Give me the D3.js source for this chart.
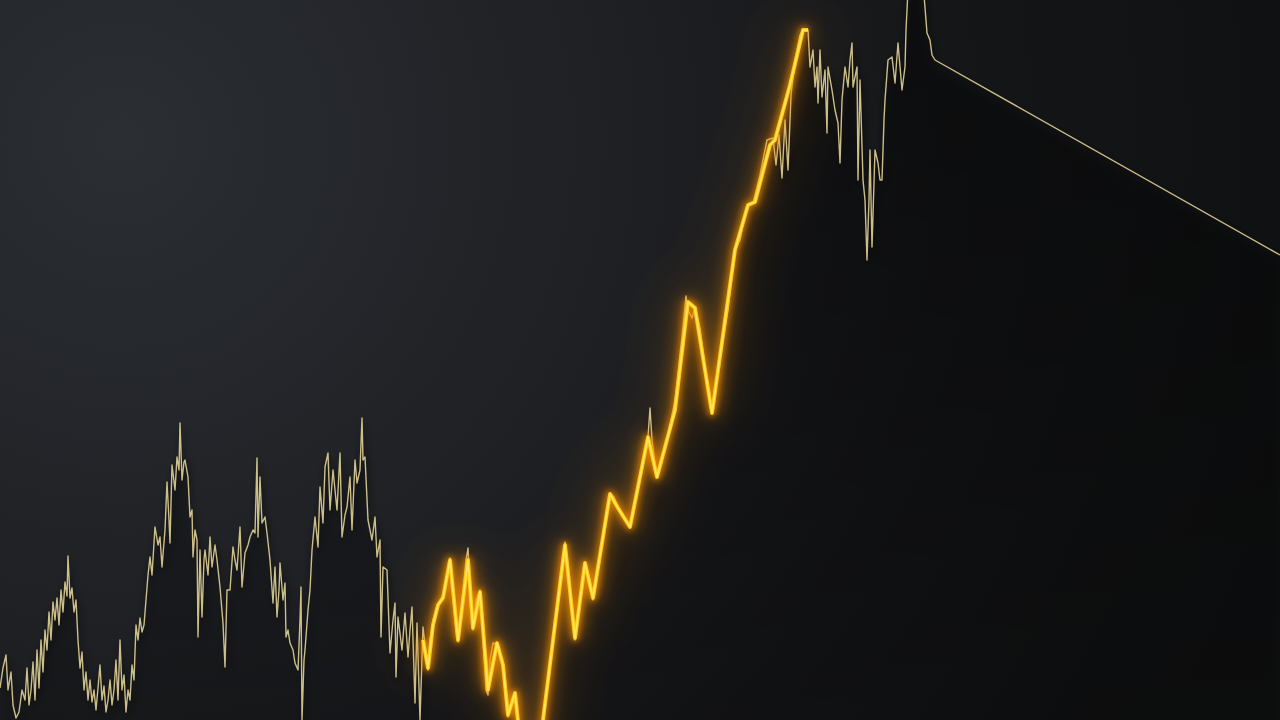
<!DOCTYPE html>
<html>
<head>
<meta charset="utf-8">
<script src="https://cdn.jsdelivr.net/npm/d3@7"></script>
<style>
html,body{margin:0;padding:0;background:#151618;overflow:hidden;}
svg{display:block;}
</style>
</head>
<body>
<svg id="chart" width="1280" height="720"></svg>
<script>
// Full price trace [time, level] (thin pale-gold line)
const traceEarly = [
[0,32],[3,52],[6,65],[8,30],[11,48],[13,15],[16,2],[19,8],[22,30],[25,20],[27,52],[29,15],[31,30],[33,58],[35,20],[37,70],[39,32],[41,80],[43,48],[45,90],[47,70],[49,108],[51,80],[53,118],[55,100],[57,122],[59,95],[61,130],[63,108],[65,138],[67,124],[68,164],[70,122],[72,132],[74,108],[76,120],[78,80],[80,52],[82,68],[84,30],[86,48],[88,20],[90,40],[92,18],[94,30],[96,10],[98,32],[100,55],[102,20],[104,34],[106,8],[108,20],[110,40],[112,15],[114,30],[116,60],[118,20],[120,80],[122,30],[124,45],[126,8],[128,30],[130,20],[132,55],[134,40],[136,95],[138,80],[140,102],[142,88],[144,95],[146,120],[148,145]
];
const tracePeaks = [
[150,163],[152,145],[155,193],[158,175],[160,183],[162,153],[165,190],[167,238],[169,200],[170,177],[172,255],[175,230],[177,263],[179,250],[180,297],[182,240],[184,258],[185,260],[188,243],[190,203],[192,210],[193,163],[195,190],[197,180],[198,83],[200,170],[202,103],[204,160],[205,170],[208,145],[210,183],[212,153],[215,175],[217,160],[220,133],[223,97],[225,53],[227,130],[230,130],[233,173],[235,160],[237,150],[240,193],[242,133],[245,167],[248,175],[250,183],[253,190],[255,187],[257,262],[258,183],[260,243],[262,197],[265,203],[267,187],[270,160],[273,117],[275,153],[277,103],[279,130],
[280,157],[283,120],[285,137],[286,83],[288,90],[290,77],[293,70],[295,57],[298,50],[300,100],[301,133],[302,0],[304,60],[305,70],[308,110],[310,130],[312,170],[315,203],[318,173],[320,233],[323,197],[325,253],[328,267],[330,210],[333,250],[335,230],[337,210],[340,267],[342,183],[345,205],[347,213],[350,243],[352,190],[355,260],[357,237],[360,250],[362,302],[363,260],[365,263],[368,200],[370,190],[372,180],[375,203],[377,163],[380,180],[381,83],[383,153],[387,150],[390,67],[393,100],[395,117],[396,43],[398,103],[402,70],[405,107],[408,63],[410,90],[412,113],[415,17],[417,97],[420,0],[423,93]
];
const traceRally = [
[428,50],[430,80],[433,100],[436,110],[438,117],[443,125],[446,135],[450,162],[453,120],[456,90],[458,78],[462,120],[466,160],[468,172],[470,130],[473,90],[476,120],[480,130],[483,80],[486,30],[488,25],[490,60],[493,77],[497,75],[500,65],[503,53],[505,40],[508,3],[512,20],[515,27],[518,0],[525,-15],[535,-15],[543,0],[555,100],[565,178],[568,155],[571,110],[575,80],[577,100],[582,140],[585,157],[590,140],[593,120],[600,160],[605,200],[610,227],[614,223],[620,208],[630,192],[640,240],[648,283],[650,312],[652,280],[657,242],[665,270],[675,320],[683,393],[686,424],[688,410],[692,402],[695,413],[700,392],[703,370],[706,340],[712,307],[720,360],[728,410],[735,470],[740,480],[747,515],[753,517],[760,545],[767,580],[773,582],[776,555],[779,585],[782,542],[785,600],[788,550],[791,625],[795,660],[800,685],[803,690],[808,690]
];
const traceTop = [
[810,653],[813,670],[815,633],[817,653],[818,617],[820,670],[822,623],[825,650],[827,587],[828,653],[832,630],[835,610],[838,597],[840,557],[842,620],[845,653],[848,633],[850,660],[852,677],[853,633],[857,653],[858,540],[860,640],[863,540],[865,520],[867,460],[869,520],[870,570],[872,473],[875,570],[878,557],[880,540],[882,540],[884,600],[885,620],[888,660],[892,663],[895,637],[898,677],[902,630],[905,653],[906,690],[908,730],[910,750],[920,750],[924,725],[926,700],[927,687],[930,680],[932,665],[935,660],[1280,465]
];
// Highlighted (glowing) rally segment
const highlightTrace = [
[423,80],[428,52],[433,95],[438,115],[443,122],[450,160],[458,80],[468,160],[473,92],[480,128],[488,30],[497,77],[503,55],[508,5],[515,27],[520,-20],[540,-20],[543,0],[565,175],[575,82],[585,157],[593,122],[610,226],[618,212],[630,193],[648,283],[657,243],[675,310],[688,418],[695,412],[712,307],[735,470],[748,515],[755,518],[770,575],[775,580],[790,635],[803,690],[808,690]
];

const W = 1280, H = 720;
const fullTrace = traceEarly.concat(tracePeaks, traceRally, traceTop);

const x = d3.scaleLinear().domain([0, 1280]).range([0, W]);
const y = d3.scaleLinear().domain([0, 720]).range([H, 0]);

const svg = d3.select("#chart");
const defs = svg.append("defs");

// background gradient
const bg = defs.append("radialGradient").attr("id","bg")
  .attr("gradientUnits","userSpaceOnUse").attr("cx",120).attr("cy",140).attr("r",1200);
bg.append("stop").attr("offset","0").attr("stop-color","#2b2e33");
bg.append("stop").attr("offset","0.35").attr("stop-color","#202226");
bg.append("stop").attr("offset","0.7").attr("stop-color","#151618");
bg.append("stop").attr("offset","1").attr("stop-color","#0f1011");

const sh = defs.append("linearGradient").attr("id","shadow").attr("x1",0).attr("y1",0).attr("x2",0).attr("y2",1);
sh.append("stop").attr("offset","0").attr("stop-color","#000").attr("stop-opacity",0.45);
sh.append("stop").attr("offset","1").attr("stop-color","#000").attr("stop-opacity",0.2);

const blurShadow = defs.append("filter").attr("id","blurShadow").attr("x","-10%").attr("y","-10%").attr("width","120%").attr("height","120%");
blurShadow.append("feGaussianBlur").attr("stdDeviation",4);

const halo = defs.append("filter").attr("id","halo").attr("x","-30%").attr("y","-30%").attr("width","160%").attr("height","160%");
halo.append("feGaussianBlur").attr("stdDeviation",28);

const glow = defs.append("filter").attr("id","glow").attr("x","-20%").attr("y","-20%").attr("width","140%").attr("height","140%");
glow.append("feGaussianBlur").attr("in","SourceGraphic").attr("stdDeviation",9).attr("result","b1");
glow.append("feGaussianBlur").attr("in","SourceGraphic").attr("stdDeviation",3).attr("result","b2");
const m = glow.append("feMerge");
m.append("feMergeNode").attr("in","b1");
m.append("feMergeNode").attr("in","b2");

svg.append("rect").attr("width",W).attr("height",H).attr("fill","url(#bg)");

// shadow under the line
const area = d3.area().x(d => x(d[0])).y0(H + 20).y1(d => y(d[1]) + 6);
svg.append("path").datum(fullTrace).attr("d", area)
  .attr("fill","url(#shadow)").attr("filter","url(#blurShadow)");

const line = d3.line().x(d => x(d[0])).y(d => y(d[1]));

// warm halo around highlighted rally
svg.append("path").datum(highlightTrace).attr("d", line)
  .attr("fill","none").attr("stroke","#b86a00").attr("stroke-width",30)
  .attr("stroke-opacity",0.22).attr("filter","url(#halo)");

// thin trace
svg.append("path").datum(fullTrace).attr("d", line)
  .attr("fill","none").attr("stroke","#000").attr("stroke-opacity",0.35)
  .attr("stroke-width",3).attr("transform","translate(2,4)").attr("filter","url(#blurShadow)");
svg.append("path").datum(fullTrace).attr("d", line)
  .attr("fill","none").attr("stroke","#dccd92").attr("stroke-width",1.4)
  .attr("stroke-linejoin","round").attr("stroke-opacity",0.92);

// glowing highlight
svg.append("path").datum(highlightTrace).attr("d", line)
  .attr("fill","none").attr("stroke","#ff9400").attr("stroke-width",7)
  .attr("stroke-opacity",0.7).attr("filter","url(#glow)").attr("stroke-linejoin","round");
svg.append("path").datum(highlightTrace).attr("d", line)
  .attr("fill","none").attr("stroke","#ffc814").attr("stroke-width",3.8)
  .attr("stroke-linejoin","round");
svg.append("path").datum(highlightTrace).attr("d", line)
  .attr("fill","none").attr("stroke","#ffec6a").attr("stroke-width",1.6)
  .attr("stroke-linejoin","round").attr("stroke-opacity",0.85);
</script>
</body>
</html>
